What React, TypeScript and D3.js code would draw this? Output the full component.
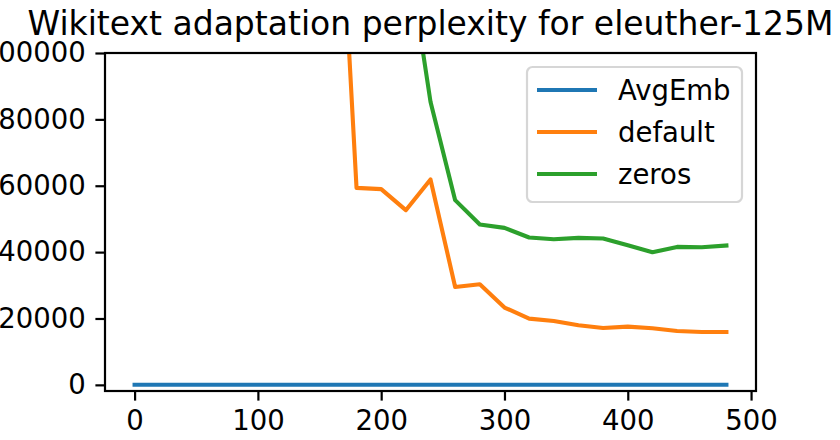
import { useEffect, useRef } from "react";
import * as d3 from "d3";

const width = 840;
const height = 440;
const margin = { top: 53, right: 84, bottom: 49, left: 105 };

const title = "Wikitext adaptation perplexity for eleuther-125M";

// 訓練步數
const steps = [
  0, 20, 40, 60, 80, 100, 120, 140, 160, 180, 200, 220, 240, 260, 280, 300,
  320, 340, 360, 380, 400, 420, 440, 460, 480,
];

// 各初始化方式的 perplexity
const avgEmb = [
  42, 40, 39, 38, 37, 37, 36, 36, 35, 35, 35, 34, 34, 34, 34, 33, 33, 33, 33,
  33, 32, 32, 32, 32, 32,
];
const defaultInit = [
  1850000, 1620000, 1380000, 1150000, 940000, 760000, 590000, 430000, 195900,
  59370, 58970, 52640, 61900, 29500, 30300, 23300, 19970, 19250, 17950, 17140,
  17560, 17040, 16230, 15930, 15930,
];
const zeros = [
  2400000, 2150000, 1900000, 1680000, 1450000, 1230000, 1010000, 820000,
  610000, 420000, 260000, 134300, 85300, 55660, 48320, 47300, 44400, 43890,
  44290, 44100, 42080, 39970, 41570, 41480, 41990,
];

const seriesNames = ["AvgEmb", "default", "zeros"];
const seriesValues = [avgEmb, defaultInit, zeros];
const colors = ["#1f77b4", "#ff7f0e", "#2ca02c"];

const xTicks = [0, 100, 200, 300, 400, 500];
const yTicks = [0, 20000, 40000, 60000, 80000, 100000];

const font = "DejaVu Sans, sans-serif";
const tickFont = 27.5;

export default function App() {
  const svgRef = useRef<SVGSVGElement | null>(null);

  useEffect(() => {
    if (!svgRef.current) return;
    const svg = d3.select(svgRef.current);

    const x = d3
      .scaleLinear()
      .domain([-24, 504])
      .range([margin.left, width - margin.right]);

    const y = d3
      .scaleLinear()
      .domain([-1850, 100000])
      .range([height - margin.bottom, margin.top]);

    svg
      .select(".clip rect")
      .attr("x", margin.left)
      .attr("y", margin.top)
      .attr("width", width - margin.left - margin.right)
      .attr("height", height - margin.top - margin.bottom);

    const line = d3
      .line<number>()
      .x((_, i) => x(steps[i]))
      .y((d) => y(d));

    // 折線（matplotlib 預設 projecting cap）
    svg
      .select(".lines")
      .selectAll("path")
      .data(seriesValues)
      .join("path")
      .attr("fill", "none")
      .attr("stroke", (_, i) => colors[i])
      .attr("stroke-width", 4.1)
      .attr("stroke-linejoin", "round")
      .attr("stroke-linecap", "square")
      .attr("d", (d) => line(d));

    // x 軸
    const xAxis = svg
      .select<SVGGElement>(".x-axis")
      .attr("transform", `translate(0, ${height - margin.bottom})`)
      .call(
        d3
          .axisBottom(x)
          .tickValues(xTicks)
          .tickSize(9.6)
          .tickPadding(9.6)
          .tickFormat(d3.format("d")),
      );
    xAxis.select(".domain").remove();

    // y 軸
    const yAxis = svg
      .select<SVGGElement>(".y-axis")
      .attr("transform", `translate(${margin.left}, 0)`)
      .call(
        d3
          .axisLeft(y)
          .tickValues(yTicks)
          .tickSize(9.6)
          .tickPadding(9.6)
          .tickFormat(d3.format("d")),
      );
    yAxis.select(".domain").remove();

    svg
      .selectAll(".x-axis, .y-axis")
      .attr("font-family", font)
      .attr("font-size", tickFont);
    svg
      .selectAll(".x-axis line, .y-axis line")
      .attr("stroke", "#000")
      .attr("stroke-width", 2.2);
    svg.selectAll(".x-axis text, .y-axis text").attr("fill", "#000");

    svg
      .select(".frame")
      .attr("x", margin.left)
      .attr("y", margin.top)
      .attr("width", width - margin.left - margin.right)
      .attr("height", height - margin.top - margin.bottom)
      .attr("fill", "none")
      .attr("stroke", "#000")
      .attr("stroke-width", 2.2);

    // 圖例
    const legend = svg.select(".legend");
    legend
      .select("rect")
      .attr("x", 527)
      .attr("y", 67)
      .attr("width", 215)
      .attr("height", 135)
      .attr("rx", 5.5)
      .attr("fill", "white")
      .attr("fill-opacity", 0.8)
      .attr("stroke", "#d6d6d6")
      .attr("stroke-width", 2.2);

    const rows = legend
      .selectAll<SVGGElement, string>("g")
      .data(seriesNames)
      .join("g")
      .attr("transform", (_, i) => `translate(537, ${90 + i * 42})`);

    rows
      .selectAll("line")
      .data((d) => [d])
      .join("line")
      .attr("x1", 0)
      .attr("x2", 60)
      .attr("stroke", (d) => colors[seriesNames.indexOf(d)])
      .attr("stroke-width", 4.1);

    rows
      .selectAll("text")
      .data((d) => [d])
      .join("text")
      .attr("x", 81)
      .attr("dy", "0.36em")
      .attr("font-family", font)
      .attr("font-size", tickFont)
      .text((d) => d);

    svg
      .select(".title")
      .attr("x", (margin.left + width - margin.right) / 2)
      .attr("y", 35)
      .attr("text-anchor", "middle")
      .attr("font-family", font)
      .attr("font-size", 33)
      .text(title);
  }, []);

  return (
    <svg
      ref={svgRef}
      width={width}
      height={height}
      style={{ position: "absolute", left: 0, top: 0, background: "white" }}
    >
      <defs>
        <clipPath id="plot-clip" className="clip">
          <rect />
        </clipPath>
      </defs>
      <g className="lines" clipPath="url(#plot-clip)" />
      <g className="x-axis" />
      <g className="y-axis" />
      <rect className="frame" />
      <g className="legend">
        <rect />
      </g>
      <text className="title" />
    </svg>
  );
}
